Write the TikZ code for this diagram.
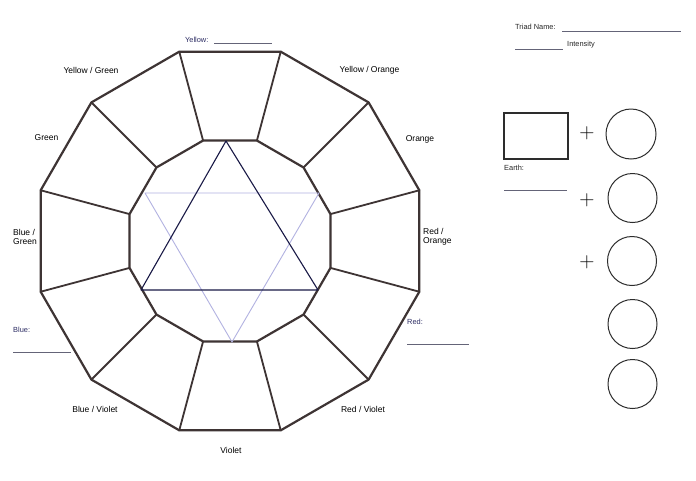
\documentclass[tikz,border=0pt]{standalone}
\usepackage{fontspec}
\setmainfont{Liberation Sans}
\definecolor{ringcol}{RGB}{62,52,52}
\definecolor{navytri}{RGB}{25,25,70}
\definecolor{lavtri}{RGB}{178,178,225}
\definecolor{navytext}{RGB}{45,45,100}
\definecolor{blankcol}{RGB}{100,100,120}
\definecolor{shapecol}{RGB}{45,45,45}
\begin{document}
\begin{tikzpicture}[x=1pt,y=-1pt,
  ring/.style={draw=ringcol, line width=2.2pt, line join=round},
  spoke/.style={draw=ringcol, line width=1.8pt, line cap=round},
  lbl/.style={font=\fontsize{8.5}{9}\selectfont, inner sep=0pt},
  smalllbl/.style={font=\fontsize{7.4}{8.5}\selectfont, inner sep=0pt, anchor=west, text=navytext},
  sidelbl/.style={font=\fontsize{7.4}{8.5}\selectfont, inner sep=0pt, anchor=west, text=black!85},
  blank/.style={draw=blankcol, line width=0.8pt},
  plusmark/.style={font=\fontfamily{lmr}\fontsize{21}{21}\selectfont, inner sep=0pt},
  pot/.style={draw=shapecol, line width=1pt, circle, minimum size=49pt, inner sep=0pt},
  box/.style={draw=shapecol, line width=1.1pt}]
\useasboundingbox[fill=white] (0,0) rectangle (696,480);

% dodecagon ring
\begin{scope}[shift={(230,241)}]
  \foreach \k in {0,...,11} {
    \coordinate (o\k) at ({15+30*\k}:196);
    \coordinate (i\k) at ({15+30*\k}:104);
  }
\end{scope}
\draw[ring] (o0)--(o1)--(o2)--(o3)--(o4)--(o5)--(o6)--(o7)--(o8)--(o9)--(o10)--(o11)--cycle;
\draw[ring] (i0)--(i1)--(i2)--(i3)--(i4)--(i5)--(i6)--(i7)--(i8)--(i9)--(i10)--(i11)--cycle;
\foreach \k in {0,...,11} { \draw[spoke] (o\k) -- (i\k); }

% triangles
\coordinate (la) at (145,193);
\coordinate (lb) at (319,193);
\coordinate (lc) at (232,342);
\draw[lavtri, line width=0.9pt, line join=round] (la) -- (lb) -- (lc) -- cycle;
\coordinate (na) at (226,141);
\coordinate (nb) at (141,290);
\coordinate (nc) at (318,290);
\draw[navytri, line width=1.1pt, line join=round] (na) -- (nb) -- (nc) -- cycle;

% colour labels
\node[lbl] (yg) at (91,70) {Yellow / Green};
\node[lbl] (yo) at (369.5,70) {Yellow / Orange};
\node[lbl] (gr) at (46.5,138) {Green};
\node[lbl] (or) at (420,139) {Orange};
\node[lbl, align=left, anchor=west] (bg) at (13,236.5) {Blue /\\Green};
\node[lbl, align=left, anchor=west] (ro) at (423,236.5) {Red /\\Orange};
\node[lbl] (bv) at (95,409) {Blue / Violet};
\node[lbl] (rv) at (363,409) {Red / Violet};
\node[lbl] (vi) at (231,450) {Violet};

% primary blanks
\node[smalllbl] (ylw) at (185,40) {Yellow:};
\coordinate (ylwa) at (214,43.5);
\coordinate (ylwb) at (272,43.5);
\draw[blank] (ylwa) -- (ylwb);
\node[smalllbl] (blu) at (13,330) {Blue:};
\coordinate (blua) at (13,352);
\coordinate (blub) at (71,352);
\draw[blank] (blua) -- (blub);
\node[smalllbl] (red) at (407,322) {Red:};
\coordinate (reda) at (407,344);
\coordinate (redb) at (469,344);
\draw[blank] (reda) -- (redb);

% right panel
\node[sidelbl] (triad) at (515,27) {Triad Name:};
\coordinate (tra) at (562,31);
\coordinate (trb) at (681,31);
\draw[blank] (tra) -- (trb);
\coordinate (ina) at (515,49);
\coordinate (inb) at (563,49);
\draw[blank] (ina) -- (inb);
\node[sidelbl] (inten) at (567,45) {Intensity};

\node[box, minimum width=64pt, minimum height=46pt, inner sep=0pt] (earthbox) at (536,136) {};
\node[sidelbl] (earth) at (504,168) {Earth:};
\coordinate (eaa) at (504,190);
\coordinate (eab) at (567,190);
\draw[blank] (eaa) -- (eab);

\node[plusmark] (p1) at (587,133) {+};
\node[plusmark] (p2) at (587,200) {+};
\node[plusmark] (p3) at (587,262) {+};

\node[pot, minimum size=50pt] (c1) at (631,134) {};
\node[pot] (c2) at (632.5,198) {};
\node[pot] (c3) at (632,261) {};
\node[pot] (c4) at (632.5,324) {};
\node[pot] (c5) at (632.5,384) {};
\end{tikzpicture}
\end{document}
